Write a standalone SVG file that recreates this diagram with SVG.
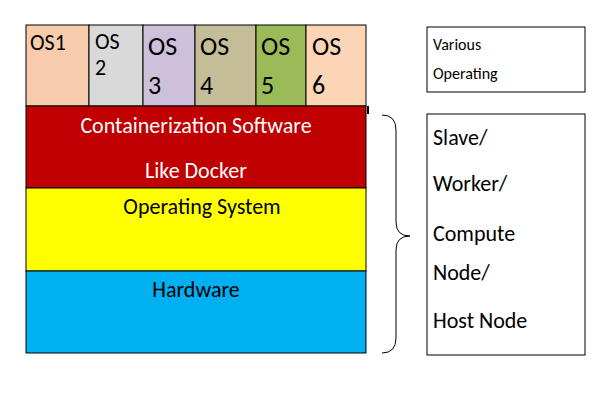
<svg xmlns="http://www.w3.org/2000/svg" width="609" height="414" viewBox="0 0 609 414">
<style>
.b{stroke:#000;stroke-width:1}
.t{font-family:Carlito,"Liberation Sans",sans-serif;fill:#000}
.w{font-family:Carlito,"Liberation Sans",sans-serif;fill:#fff}
</style>
<rect width="609" height="414" fill="#fff"/>
<g id="os1"><rect class="b" x="26" y="25" width="63" height="81" fill="#f8cbad"/><text class="t" x="30" y="50" font-size="22">OS1</text></g>
<g id="os2"><rect class="b" x="89" y="25" width="54" height="81" fill="#d9d9d9"/><text class="t" x="95" y="49" font-size="22">OS</text><text class="t" x="95" y="75" font-size="22">2</text></g>
<g id="os3"><rect class="b" x="143" y="25" width="52" height="81" fill="#ccc0da"/><text class="t" x="148" y="55" font-size="26">OS</text><text class="t" x="148" y="94" font-size="26">3</text></g>
<g id="os4"><rect class="b" x="195" y="25" width="61" height="81" fill="#c4bd97"/><text class="t" x="200" y="55" font-size="26">OS</text><text class="t" x="200" y="94" font-size="26">4</text></g>
<g id="os5"><rect class="b" x="256" y="25" width="50" height="81" fill="#9bbb59"/><text class="t" x="261" y="55" font-size="26">OS</text><text class="t" x="261" y="94" font-size="26">5</text></g>
<g id="os6"><rect class="b" x="306" y="25" width="60" height="81" fill="#fbd5b5"/><text class="t" x="312" y="55" font-size="26">OS</text><text class="t" x="312" y="94" font-size="26">6</text></g>
<g id="container"><rect class="b" x="26" y="106" width="340" height="82" fill="#c00000"/><text class="w" x="196" y="133" font-size="22" text-anchor="middle">Containerization Software</text><text class="w" x="196" y="178" font-size="22" text-anchor="middle">Like Docker</text></g>
<rect x="367" y="106" width="2" height="8" fill="#000"/>
<g id="os"><rect class="b" x="26" y="188" width="340" height="83" fill="#ffff00"/><text class="t" x="202" y="214" font-size="22" text-anchor="middle">Operating System</text></g>
<g id="hw"><rect class="b" x="26" y="271" width="340" height="82" fill="#00b0f0"/><text class="t" x="196" y="297" font-size="22" text-anchor="middle">Hardware</text></g>
<g id="various"><rect class="b" x="427" y="27" width="158" height="65" fill="#fff"/><text class="t" x="433" y="50" font-size="16">Various</text><text class="t" x="433" y="79" font-size="16">Operating</text></g>
<g id="slave"><rect class="b" x="427" y="114" width="158" height="241" fill="#fff"/>
<text class="t" x="433" y="145" font-size="22">Slave/</text>
<text class="t" x="433" y="191" font-size="22">Worker/</text>
<text class="t" x="433" y="241" font-size="22">Compute</text>
<text class="t" x="433" y="280" font-size="22">Node/</text>
<text class="t" x="433" y="328" font-size="22">Host Node</text></g>
<g id="connectors"><path d="M382,115 Q396,115 396,130 L396,222 Q396,236 410,236 Q396,236 396,250 L396,338 Q396,353 382,353" fill="none" stroke="#000" stroke-width="1"/></g>
</svg>
